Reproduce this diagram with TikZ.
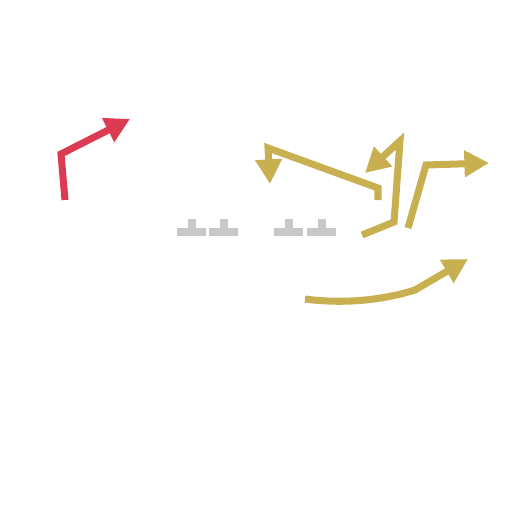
\documentclass[tikz,border=0pt]{standalone}
\usetikzlibrary{arrows.meta}

\definecolor{rojo}{RGB}{220,60,82}
\definecolor{oro}{RGB}{200,175,80}
\definecolor{gris}{RGB}{200,200,200}

\tikzset{
  flecha/.style={line width=4pt,miter limit=10,-{Triangle[length=14pt,width=14.5pt]}},
  pieza/.style={fill=gris}
}

\begin{document}
\begin{tikzpicture}[x=0.02cm,y=-0.02cm]
\def\ancho{29};%ancho de la base
\def\alto{8};%alto de la base
\useasboundingbox (0,0) rectangle (512,512);

%Puntos de las flechas
\coordinate (r0) at (65,200);
\coordinate (r1) at (61,154);
\coordinate (r2) at (130,119);
\coordinate (a0) at (378,200);
\coordinate (a1) at (378,188);
\coordinate (a2) at (268,148);
\coordinate (a3) at (270,184);
\coordinate (b0) at (362,235);
\coordinate (b1) at (394,222);
\coordinate (b2) at (400,141);
\coordinate (b3) at (365,173);
\coordinate (c0) at (408,228);
\coordinate (c1) at (426,165);
\coordinate (c2) at (489,163);
\coordinate (d0) at (305,299);
\coordinate (d1) at (415,290);
\coordinate (d2) at (468,259);

%Piezas grises
\foreach \x in {177,209,274,307}{
    \fill[pieza] (\x,228) rectangle ++(\ancho,\alto);
    \fill[pieza] (\x+11,219) rectangle ++(8,9);
}

%Flechas
\draw[flecha,rojo] (r0) -- (r1) -- (r2);
\draw[flecha,oro] (a0) -- (a1) -- (a2) -- (a3);
\draw[flecha,oro] (b0) -- (b1) -- (b2) -- (b3);
\draw[flecha,oro] (c0) -- (c1) -- (c2);
\draw[flecha,oro] (d0) .. controls (350,305) and (390,298) .. (d1) -- (d2);
\end{tikzpicture}
\end{document}
